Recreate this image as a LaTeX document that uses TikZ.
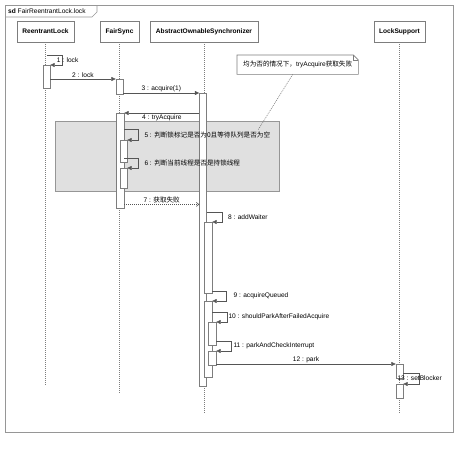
\documentclass[tikz,border=0pt]{standalone}
\usepackage{fontspec}
\setmainfont{Liberation Sans}
\newfontfamily\cjk{Noto Sans CJK SC}
\usetikzlibrary{arrows.meta,calc}
\definecolor{linegrey}{RGB}{85,85,85}
\definecolor{edgegrey}{RGB}{125,125,125}
\definecolor{framegrey}{RGB}{150,150,150}
\definecolor{fragfill}{RGB}{224,224,224}

\begin{document}
\begin{tikzpicture}[x=1pt, y=-1pt,
    font=\fontsize{6.6}{8}\selectfont,
    head/.style={draw=edgegrey, fill=white, minimum height=21pt, inner sep=1pt, font=\fontsize{6.6}{8}\selectfont\bfseries},
    act/.style={draw=edgegrey, fill=white, minimum width=7pt, inner sep=0pt, anchor=north},
    lifeline/.style={draw=edgegrey, line width=0.6pt, dash pattern=on 1pt off 1pt},
    msg/.style={draw=linegrey, line width=0.6pt, -{Triangle[length=4.5pt,width=4pt]}},
    ret/.style={draw=linegrey, line width=0.6pt, dash pattern=on 1pt off 1pt, -{Straight Barb[length=2.5pt,width=4pt]}},
    lbl/.style={inner sep=1pt}]
  \useasboundingbox (0,0) rectangle (474,453);

  % frame and title tab
  \draw[framegrey, line width=0.8pt] (5,5) rectangle (453,432);
  \draw[framegrey, line width=0.6pt] (5,17) -- (92,17) -- (97,12) -- (97,5);
  \node[anchor=west, inner sep=0pt] (title) at (8,11) {\textbf{sd} FairReentrantLock.lock};

  % combined fragment
  \node[draw=framegrey, fill=fragfill, minimum width=224pt, minimum height=70pt, anchor=north west] (cond) at (55,121) {};

  % lifelines
  \node[head, minimum width=57pt] (rl) at (45.5,31.5) {ReentrantLock};
  \node[head, minimum width=39pt] (fs) at (119.5,31.5) {FairSync};
  \node[head, minimum width=108pt] (aos) at (204,31.5) {AbstractOwnableSynchronizer};
  \node[head, minimum width=51pt] (ls) at (399.5,31.5) {LockSupport};
  \draw[lifeline] (rl.south) -- ++(0,344);
  \draw[lifeline] (fs.south) -- ++(0,351);
  \draw[lifeline] (aos.south) -- ++(0,371);
  \draw[lifeline] (ls.south) -- ++(0,371);

  % activations
  \node[act, minimum height=23pt] (rl1) at (46.5,65) {};
  \node[act, minimum height=15pt] (fs1) at (119.5,79) {};
  \node[act, minimum height=293pt] (aos1) at (203,93) {};
  \node[act, minimum height=95pt, minimum width=8pt] (fs2) at (120,113) {};
  \node[act, minimum height=22pt] (fs3) at (123.5,140) {};
  \node[act, minimum height=20pt] (fs4) at (123.5,168) {};
  \node[act, minimum height=71pt, minimum width=8pt] (aos2) at (208,222) {};
  \node[act, minimum height=76pt, minimum width=8pt] (aos3) at (208,301) {};
  \node[act, minimum height=23pt, minimum width=8pt] (aos4) at (212,322) {};
  \node[act, minimum height=14pt, minimum width=8pt] (aos5) at (212,351) {};
  \node[act, minimum height=14pt] (ls1) at (399.5,364) {};
  \node[act, minimum height=14pt] (ls2) at (399.5,384) {};

  % note
  \node[fill=white, minimum width=121pt, minimum height=19pt, inner sep=1pt, anchor=north west] (note) at (237,55) {{\cjk 均为否的情况下，}tryAcquire{\cjk 获取失败}};
  \draw[edgegrey, line width=0.6pt] (note.north west) -- ([xshift=-5pt]note.north east) -- ([yshift=-5pt]note.north east) -- (note.south east) -- (note.south west) -- cycle;
  \draw[edgegrey, line width=0.5pt] ([xshift=-5pt]note.north east) |- ([yshift=-5pt]note.north east);
  \coordinate (pin) at (258,130);
  \draw[lifeline] ([xshift=-5pt]note.south) -- (pin);

  % messages
  \draw[msg] ($(rl1.north)+(0,-10)$) -- ++(16,0) |- node[lbl, pos=0.25, anchor=west, xshift=-7pt] {1 : lock} (rl1.north east);
  \draw[msg] (rl1.east |- fs1.north) -- node[lbl, above] {2 : lock} (fs1.north west);
  \draw[msg] (fs1.east |- aos1.north) -- node[lbl, above] {3 : acquire(1)} (aos1.north west);
  \draw[msg] (aos1.west |- fs2.north) -- node[lbl, below] {4 : tryAcquire} (fs2.north east);
  \draw[msg] ($(fs3.north -| fs2.east)+(0,-11)$) -- ++(14,0) |- node[lbl, pos=0.25, anchor=west, xshift=5pt] {5 : {\cjk 判断锁标记是否为0且等待队列是否为空}} (fs3.north east);
  \draw[msg] ($(fs4.north -| fs2.east)+(0,-10)$) -- ++(14,0) |- node[lbl, pos=0.25, anchor=west, xshift=5pt] {6 : {\cjk 判断当前线程是否是持锁线程}} (fs4.north east);
  \coordinate (r7) at ($(fs2.south east)+(0,-4)$);
  \draw[ret] (r7) -- node[lbl, above] {7 : {\cjk 获取失败}} (r7 -| aos1.west);
  \draw[msg] ($(aos2.north -| aos1.east)+(0,-10)$) -- ++(16,0) |- node[lbl, pos=0.25, anchor=west, xshift=4pt] {8 : addWaiter} (aos2.north east);
  \draw[msg] ($(aos3.north -| aos2.east)+(0,-10)$) -- ++(14,0) |- node[lbl, pos=0.25, anchor=west, xshift=6pt] {9 : acquireQueued} (aos3.north east);
  \draw[msg] ($(aos4.north -| aos3.east)+(0,-10)$) -- ++(15,0) |- node[lbl, pos=0.25, anchor=west, xshift=0pt] {10 : shouldParkAfterFailedAcquire} (aos4.north east);
  \draw[msg] ($(aos5.north -| aos4.east)+(0,-10)$) -- ++(15,0) |- node[lbl, pos=0.25, anchor=west, xshift=1pt] {11 : parkAndCheckInterrupt} (aos5.north east);
  \draw[msg] (aos5.east |- ls1.north) -- node[lbl, above] {12 : park} (ls1.north west);
  \draw[msg] ($(ls2.north -| ls1.east)+(0,-11)$) -- ++(16,0) |- node[lbl, pos=0.25, anchor=west, xshift=-23pt] {13 : setBlocker} (ls2.north east);
\end{tikzpicture}
\end{document}
